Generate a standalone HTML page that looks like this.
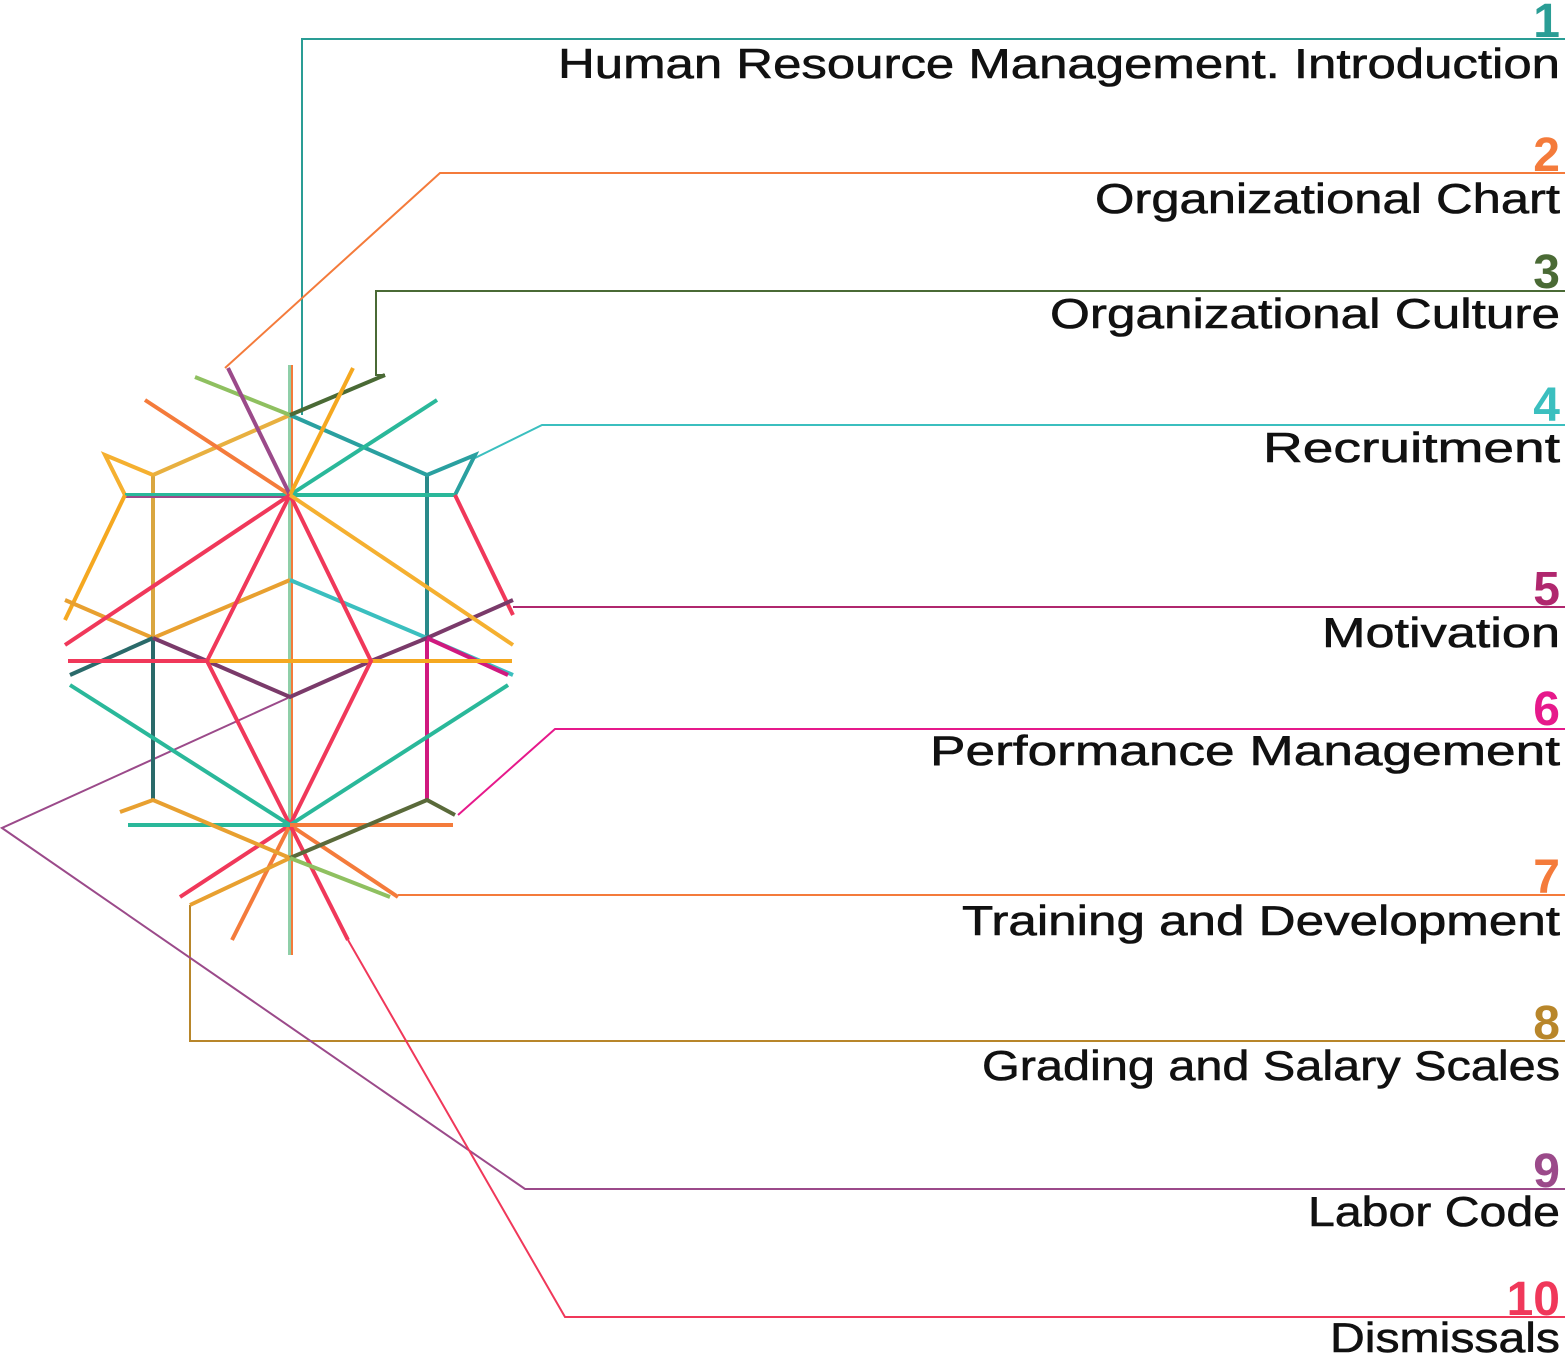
<!DOCTYPE html>
<html><head><meta charset="utf-8"><style>html,body{margin:0;padding:0;background:#fff}svg{display:block}</style></head>
<body>
<svg width="1565" height="1357" viewBox="0 0 1565 1357" xmlns="http://www.w3.org/2000/svg">
<g fill="none" stroke-width="2">
<polyline points="302,415 302,39 1565,39" stroke="#2a9d95"/>
<polyline points="225,368 440,173 1565,173" stroke="#f47b3b"/>
<polyline points="385,375 376,375 376,291 1565,291" stroke="#4a6a35"/>
<polyline points="475,458 542,425 1565,425" stroke="#3bbfbf"/>
<polyline points="513,607 1565,607" stroke="#b0276e"/>
<polyline points="458,815 555,729 1565,729" stroke="#e6198b"/>
<polyline points="398,895 1565,895" stroke="#f47b3b"/>
<polyline points="190,905 190,1041 1565,1041" stroke="#b8862a"/>
<polyline points="290,697 2,828 525,1189 1565,1189" stroke="#9b4a8a"/>
<polyline points="348,940 565,1317 1565,1317" stroke="#f0385a"/>
</g>
<g fill="none" stroke-width="4" stroke-linecap="butt">
<line x1="290" y1="365" x2="290" y2="955" stroke="#8fcfa8"/>
<line x1="292" y1="365" x2="292" y2="955" stroke="#f47b3b" stroke-width="2"/>
<polyline points="153,475 153,800" stroke="#d9a640"/>
<polyline points="153,638 153,800" stroke="#2a6a6a"/>
<polyline points="427,475 427,800" stroke="#2a8a8a"/>
<polyline points="427,638 427,800" stroke="#d0197f"/>
<polyline points="153,475 290,415" stroke="#e8b040"/>
<polyline points="290,415 427,475 475,455 455,495" stroke="#2aa0a0"/>
<polyline points="153,475 105,455 125,495" stroke="#f5b030"/>
<polyline points="195,377 290,415" stroke="#8fc060"/>
<polyline points="290,415 385,375" stroke="#4a6a35"/>
<line x1="125" y1="495" x2="455" y2="495" stroke="#2ab89a"/>
<line x1="125" y1="497" x2="290" y2="497" stroke="#9b4a8a" stroke-width="2"/>
<polyline points="125,495 65,620" stroke="#f5a820"/>
<polyline points="455,495 513,615" stroke="#f0385a"/>
<polyline points="65,600 153,638 290,580" stroke="#e8a030"/>
<polyline points="290,580 427,638 513,675" stroke="#3bbfbf"/>
<polyline points="70,675 153,638" stroke="#2a6a6a"/>
<polyline points="153,638 207,661 290,697 371,661 427,638 513,600" stroke="#7a3a6a"/>
<polyline points="427,638 508,675" stroke="#d0197f"/>
<line x1="68" y1="661" x2="512" y2="661" stroke="#f5a820"/>
<line x1="68" y1="661" x2="207" y2="661" stroke="#f0385a"/>
<polyline points="207,661 290,495 371,661 290,825 207,661" stroke="#f0385a"/>
<line x1="290" y1="495" x2="145" y2="400" stroke="#f47b3b"/>
<line x1="290" y1="495" x2="437" y2="400" stroke="#2ab89a"/>
<line x1="290" y1="495" x2="228" y2="368" stroke="#9b4a8a"/>
<line x1="290" y1="495" x2="353" y2="368" stroke="#f5a820"/>
<line x1="290" y1="495" x2="65" y2="645" stroke="#f0385a"/>
<line x1="290" y1="495" x2="513" y2="645" stroke="#f5b030"/>
<line x1="290" y1="825" x2="70" y2="685" stroke="#2ab89a"/>
<line x1="290" y1="825" x2="508" y2="685" stroke="#2ab89a"/>
<line x1="290" y1="825" x2="180" y2="897" stroke="#f0385a"/>
<line x1="290" y1="825" x2="398" y2="897" stroke="#f47b3b"/>
<line x1="290" y1="825" x2="232" y2="940" stroke="#f47b3b"/>
<line x1="290" y1="825" x2="348" y2="940" stroke="#f0385a"/>
<line x1="128" y1="825" x2="453" y2="825" stroke="#2ab89a"/>
<line x1="290" y1="825" x2="453" y2="825" stroke="#f47b3b"/>
<polyline points="120,812 153,800 290,858" stroke="#e8a030"/>
<polyline points="455,815 427,800 290,858" stroke="#5a6a3a"/>
<polyline points="190,905 290,858" stroke="#e8a030"/>
<polyline points="290,858 390,897" stroke="#8fc060"/>
</g>
<g font-family="Liberation Sans, sans-serif" text-anchor="end" fill="#111">
<g font-weight="bold" font-size="48">
<text x="1560" y="37" fill="#2a9d95">1</text>
<text x="1560" y="171" fill="#f47b3b">2</text>
<text x="1560" y="288" fill="#4a6a35">3</text>
<text x="1560" y="421" fill="#3bbfbf">4</text>
<text x="1560" y="605" fill="#b0276e">5</text>
<text x="1560" y="725" fill="#e6198b">6</text>
<text x="1560" y="893" fill="#f47b3b">7</text>
<text x="1560" y="1039" fill="#b8862a">8</text>
<text x="1560" y="1187" fill="#9b4a8a">9</text>
<text x="1560" y="1315" fill="#f0385a">10</text>
</g>
<g font-size="42" stroke="#111" stroke-width="0.6">
<text x="1560" y="78" textLength="1002" lengthAdjust="spacingAndGlyphs">Human Resource Management. Introduction</text>
<text x="1560" y="213" textLength="465" lengthAdjust="spacingAndGlyphs">Organizational Chart</text>
<text x="1560" y="328" textLength="510" lengthAdjust="spacingAndGlyphs">Organizational Culture</text>
<text x="1560" y="462" textLength="297" lengthAdjust="spacingAndGlyphs">Recruitment</text>
<text x="1560" y="647" textLength="238" lengthAdjust="spacingAndGlyphs">Motivation</text>
<text x="1560" y="765" textLength="630" lengthAdjust="spacingAndGlyphs">Performance Management</text>
<text x="1560" y="935" textLength="598" lengthAdjust="spacingAndGlyphs">Training and Development</text>
<text x="1560" y="1080" textLength="578" lengthAdjust="spacingAndGlyphs">Grading and Salary Scales</text>
<text x="1560" y="1226" textLength="252" lengthAdjust="spacingAndGlyphs">Labor Code</text>
<text x="1560" y="1352" textLength="230" lengthAdjust="spacingAndGlyphs">Dismissals</text>
</g>
</g>
</svg>
</body></html>
